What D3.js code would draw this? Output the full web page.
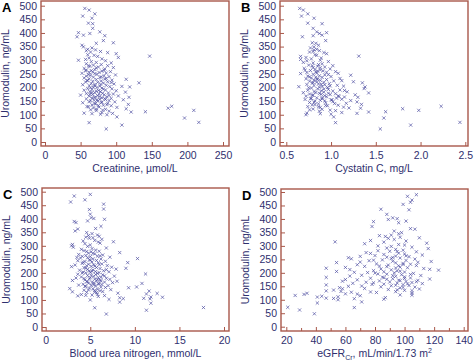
<!DOCTYPE html>
<html>
<head>
<meta charset="utf-8">
<script src="https://cdn.jsdelivr.net/npm/d3@7/dist/d3.min.js"></script>
<style>
  body { margin: 0; background: #fff; }
  text { font-family: "Liberation Sans", Arial, sans-serif; }
</style>
</head>
<body>
<script>
// one entry per patient, same order in every array
var uromodulin = [490, 484, 470, 462, 454, 436, 434, 417,
  404, 401, 398, 392, 390, 386, 372, 364, 362, 355, 349, 345, 340,
  315, 338, 335, 332, 330, 328, 324, 320, 318, 314, 310, 308, 305, 303, 300, 298, 295, 292, 290, 287,
  284, 282, 280, 278, 275, 273, 270, 268, 266, 264, 262, 261, 260, 258, 256, 255, 253, 252, 251,
  248, 246, 245, 243, 242, 240, 238, 237, 235, 233, 232, 230, 229, 227, 226, 224, 223, 221, 220, 219,
  217, 216, 214, 213, 211, 210, 208, 207, 205, 204, 203, 202, 201, 200,
  198, 196, 195, 193, 191, 190, 188, 187, 185, 184, 183, 181, 180, 178, 177, 176, 174, 173, 172, 170,
  169, 168, 166, 165, 164, 162, 161, 160, 158, 157, 156, 155, 153, 152, 150,
  148, 147, 145, 144, 142, 140, 138, 136, 135, 133, 131, 130, 128, 127, 125, 124, 122, 120, 118, 116,
  115, 113, 111, 110, 108, 106, 105, 104, 102, 100,
  92, 88, 72, 71, 62, 48,
  279, 272, 263, 257, 247, 239, 231, 225, 218, 212, 206, 199, 194, 189, 182, 179, 175, 171, 167, 163,
  159, 154, 151, 146, 141, 137, 134, 129, 121, 117];

var creatinine = [56, 62, 70, 53, 66, 61, 67, 67,
  77, 47, 63, 54, 84, 45, 82, 96, 72, 52, 54, 66, 60,
  147, 71, 58, 78, 64, 88, 100, 60, 69, 74, 103, 62, 80, 57, 47, 85, 65, 72, 93, 58,
  79, 68, 88, 63, 75, 96, 55, 84, 70, 58, 65, 57, 80, 92, 62, 76, 86, 52, 70,
  73, 99, 64, 83, 58, 90, 68, 77, 55, 86, 62, 114, 72, 94, 60, 79, 67, 88, 57, 74,
  132, 82, 65, 97, 70, 53, 86, 62, 77, 108, 91, 119, 68, 73,
  80, 60, 94, 66, 85, 55, 100, 72, 78, 63, 113, 70, 89, 58, 76, 96, 67, 83, 50, 74,
  103, 62, 87, 71, 118, 80, 66, 93, 58, 77, 85, 110, 69, 90, 74,
  62, 98, 79, 53, 88, 71, 117, 66, 82, 93, 178, 59, 76, 101, 68, 173, 114, 85, 64, 209,
  72, 90, 141, 121, 80, 55, 95, 66, 78, 87,
  101, 196, 216, 62, 108, 86,
  61, 72, 83, 67, 61, 79, 84, 59, 93, 78, 70, 64, 82, 75, 66, 81, 63, 90, 77, 69,
  84, 73, 64, 80, 70, 87, 75, 61, 72, 81];

var cystatinC = [0.65, 0.69, 0.74, 0.67, 0.81, 0.74, 0.90, 0.80,
  0.84, 0.95, 0.87, 0.90, 0.80, 0.68, 0.94, 0.79, 0.83, 0.86, 0.81, 0.77, 0.84,
  1.31, 0.81, 0.87, 0.80, 0.76, 0.92, 0.95, 0.82, 0.84, 0.66, 0.72, 0.89, 0.78, 0.66, 0.88, 0.73, 0.97, 0.69, 0.80, 0.90,
  0.86, 0.75, 1.02, 0.85, 0.93, 0.80, 0.70, 0.99, 0.82, 0.88, 0.77, 0.91, 0.85, 1.05, 0.95, 0.73, 0.84, 1.08, 0.66,
  0.80, 0.93, 1.22, 0.87, 0.74, 1.00, 0.83, 0.90, 0.78, 1.10, 0.72, 0.85, 0.95, 0.81, 0.88, 1.03, 0.76, 1.25, 0.84, 0.92,
  1.35, 0.79, 0.98, 0.86, 0.73, 0.93, 1.07, 0.81, 1.14, 0.90, 0.64, 1.38, 0.87, 0.96,
  0.78, 1.37, 0.85, 0.97, 1.10, 0.74, 0.89, 1.02, 0.81, 1.18, 0.92, 0.69, 1.42, 0.87, 1.05, 0.76, 0.99, 1.27, 0.80, 0.93,
  1.08, 0.72, 0.95, 1.15, 1.30, 0.84, 1.06, 0.78, 0.90, 1.12, 0.71, 1.00, 0.88, 1.22, 0.82,
  1.02, 1.29, 0.76, 0.94, 1.17, 0.86, 1.34, 0.79, 1.08, 0.96, 2.23, 0.74, 1.14, 0.88, 1.20, 1.33, 1.80, 0.90, 0.76, 1.98,
  1.05, 0.87, 1.61, 1.42, 1.12, 0.73, 1.29, 0.88, 1.00, 0.72,
  1.03, 1.59, 2.44, 1.05, 1.89, 1.55,
  0.79, 0.88, 0.71, 0.83, 0.97, 0.76, 0.84, 1.12, 0.80, 0.89, 0.99, 0.75, 0.92, 1.15, 0.83, 0.97, 0.89, 0.79, 1.09, 0.90,
  0.77, 1.01, 0.93, 0.81, 1.04, 0.82, 0.94, 0.86, 0.80, 0.99];

var bun = [5.0, 3.2, 4.4, 2.8, 6.5, 6.5, 4.9, 5.0,
  5.1, 5.4, 6.6, 4.7, 3.2, 3.4, 6.2, 5.6, 3.6, 3.3, 4.6, 5.2, 5.8,
  7.6, 4.8, 6.0, 4.5, 5.3, 4.9, 6.3, 5.5, 4.2, 5.9, 6.1, 4.4, 3.0, 5.0, 2.9, 4.7, 3.1, 6.8, 5.2, 4.0,
  5.6, 4.3, 6.0, 5.1, 8.3, 4.8, 5.5, 3.7, 6.4, 4.5, 5.8, 4.1, 5.0, 7.2, 4.7, 3.9, 10.3, 5.3, 6.2,
  4.9, 5.7, 3.6, 6.7, 4.4, 5.2, 9.2, 5.9, 4.1, 6.3, 4.8, 5.4, 3.3, 6.9, 4.6, 5.1, 2.9, 7.4, 5.7, 4.3,
  9.0, 6.1, 7.9, 4.7, 5.3, 3.8, 6.5, 4.9, 5.6, 7.1, 4.2, 5.0, 6.0, 4.5,
  5.8, 11.2, 3.6, 6.4, 5.1, 4.7, 7.7, 5.4, 4.0, 6.2, 5.9, 3.4, 6.8, 4.9, 5.5, 7.2, 4.4, 6.1, 3.0, 5.7,
  8.0, 4.6, 6.6, 5.2, 7.5, 4.8, 10.8, 5.9, 4.2, 6.3, 5.4, 3.7, 7.0, 5.6, 4.5,
  10.2, 6.2, 9.3, 4.9, 2.7, 5.8, 7.3, 4.3, 5.5, 11.6, 6.4, 3.0, 4.6, 5.7, 8.1, 12.5, 11.3, 4.0, 5.2, 6.6,
  3.6, 5.9, 11.8, 13.1, 8.3, 11.0, 8.7, 11.7, 7.1, 5.0,
  8.3, 11.8, 17.7, 5.5, 11.3, 6.8,
  4.6, 5.3, 6.1, 3.5, 5.0, 4.2, 6.0, 5.5, 4.5, 6.8, 5.2, 4.1, 5.6, 6.6, 5.0, 4.3, 5.8, 6.2, 4.7, 5.4,
  6.0, 5.1, 4.4, 6.7, 5.3, 4.8, 6.1, 5.5, 5.8, 4.5];

var egfr = [108, 102, 105, 104, 99, 84, 103, 88,
  92, 95, 89, 101, 79, 96, 78, 104, 107, 93, 98, 96, 91,
  53, 83, 87, 97, 110, 89, 93, 77, 101, 86, 115, 73, 96, 100, 82, 91, 105, 88, 116, 94,
  99, 82, 90, 108, 74, 96, 100, 86, 112, 80, 94, 70, 103, 88, 62, 97, 91, 64, 107,
  85, 101, 76, 92, 118, 70, 54, 94, 99, 81, 104, 68, 89, 108, 96, 73, 88, 97, 60, 102,
  47, 113, 84, 117, 91, 123, 79, 95, 54, 86, 100, 66, 75, 93,
  106, 82, 88, 98, 71, 111, 63, 94, 100, 85, 47, 104, 77, 92, 117, 88, 68, 96, 109, 83,
  58, 101, 90, 74, 105, 95, 65, 112, 86, 78, 99, 47, 103, 91, 62,
  84, 107, 56, 97, 73, 110, 89, 52, 100, 47, 57, 94, 64, 81, 105, 34, 60, 32, 97, 26,
  70, 44, 55, 41, 87, 47, 52, 66, 86, 55,
  71, 41, 21, 66, 29, 39,
  95, 77, 101, 92, 79, 109, 99, 83, 94, 63, 97, 80, 104, 92, 86, 100, 60, 97, 108, 79,
  102, 94, 71, 99, 58, 95, 105, 77, 68, 105];

var yTicks = [0, 50, 100, 150, 200, 250, 300, 350, 400, 450, 500];

var frameColor = "#a9584a";
var textColor = "#2f2f6e";
var markColor = "#4a4a9e";

var panels = [
  {letter: "A", x: creatinine, dom: [0, 250], ticks: [0, 50, 100, 150, 200, 250], fmt: d3.format("d"),
   box: [41, 1, 229, 146], xr: [45, 223], yr: [142, 5.7], title: "Creatinine, \u00b5mol/L"},
  {letter: "B", x: cystatinC, dom: [0.5, 2.5], ticks: [0.5, 1.0, 1.5, 2.0, 2.5], fmt: d3.format(".1f"),
   box: [280, 1, 468, 146], xr: [286.3, 465.3], yr: [142, 5.7], title: "Cystatin C, mg/L"},
  {letter: "C", x: bun, dom: [0, 20], ticks: [0, 5, 10, 15, 20], fmt: d3.format("d"),
   box: [42, 188, 229, 331], xr: [45.7, 224], yr: [327, 191.7], title: "Blood urea nitrogen, mmol/L"},
  {letter: "D", x: egfr, dom: [20, 140], ticks: [20, 40, 60, 80, 100, 120, 140], fmt: d3.format("d"),
   minor: d3.range(30, 140, 20),
   box: [281, 189, 468, 331], xr: [286.3, 463.7], yr: [326.7, 192], title: null}
];

var svg = d3.select("body").append("svg")
  .attr("width", 474)
  .attr("height", 362)
  .style("background", "#fff");

var cross = "M-1.6,-1.6L1.6,1.6M-1.6,1.6L1.6,-1.6";

panels.forEach(function(p) {
  var g = svg.append("g");
  var x = d3.scaleLinear().domain(p.dom).range(p.xr);
  var y = d3.scaleLinear().domain([0, 500]).range(p.yr);
  var b = p.box;

  // points
  g.selectAll(".pt")
    .data(uromodulin)
    .enter()
    .append("path")
    .attr("class", "pt")
    .attr("d", cross)
    .attr("transform", function(d, i) {
      return "translate(" + x(p.x[i]) + "," + y(d) + ")";
    })
    .attr("stroke", markColor)
    .attr("stroke-width", 0.8)
    .attr("opacity", 0.85)
    .attr("fill", "none");

  // y axis
  var ya = g.append("g")
    .attr("transform", "translate(" + b[0] + ",0)")
    .call(d3.axisLeft(y).tickValues(yTicks).tickSizeInner(-4).tickSizeOuter(0).tickPadding(4));
  // x axis
  var xa = g.append("g")
    .attr("transform", "translate(0," + b[3] + ")")
    .call(d3.axisBottom(x).tickValues(p.ticks).tickFormat(p.fmt).tickSizeInner(-4).tickSizeOuter(0).tickPadding(6));
  if (p.minor) {
    g.append("g")
      .attr("transform", "translate(0," + b[3] + ")")
      .call(d3.axisBottom(x).tickValues(p.minor).tickFormat("").tickSizeInner(-3).tickSizeOuter(0))
      .call(function(s) { s.select(".domain").remove(); })
      .selectAll("line").attr("stroke", frameColor);
  }
  [ya, xa].forEach(function(a) {
    a.select(".domain").remove();
    a.selectAll("line").attr("stroke", frameColor);
    a.selectAll("text")
      .attr("fill", textColor)
      .style("font-size", "10.5px");
  });

  // frame
  g.append("rect")
    .attr("x", b[0])
    .attr("y", b[1])
    .attr("width", b[2] - b[0])
    .attr("height", b[3] - b[1])
    .attr("fill", "none")
    .attr("stroke", frameColor)
    .attr("stroke-width", 1.4);

  // y title
  var cy = (b[1] + b[3]) / 2;
  g.append("text")
    .attr("transform", "translate(" + (b[0] - 32) + "," + cy + ") rotate(-90)")
    .attr("text-anchor", "middle")
    .attr("fill", textColor)
    .style("font-size", "10.5px")
    .text("Uromodulin, ng/mL");

  // x title
  var xt = g.append("text")
    .attr("x", (b[0] + b[2]) / 2 + 0)
    .attr("y", b[3] + 26)
    .attr("text-anchor", "middle")
    .attr("fill", textColor)
    .style("font-size", "10.5px");
  if (p.title) {
    xt.text(p.title);
  } else {
    xt.append("tspan").text("eGFR");
    xt.append("tspan").attr("dy", 3).style("font-size", "7px").text("Cr");
    xt.append("tspan").attr("dy", -3).text(", mL/min/1.73 m");
    xt.append("tspan").attr("dy", -4).style("font-size", "7px").text("2");
  }

  // panel letter
  g.append("text")
    .attr("x", b[0] - 39)
    .attr("y", b[1] + 11)
    .attr("fill", "#000")
    .style("font-size", "13px")
    .style("font-weight", "bold")
    .text(p.letter);
});
</script>
</body>
</html>
